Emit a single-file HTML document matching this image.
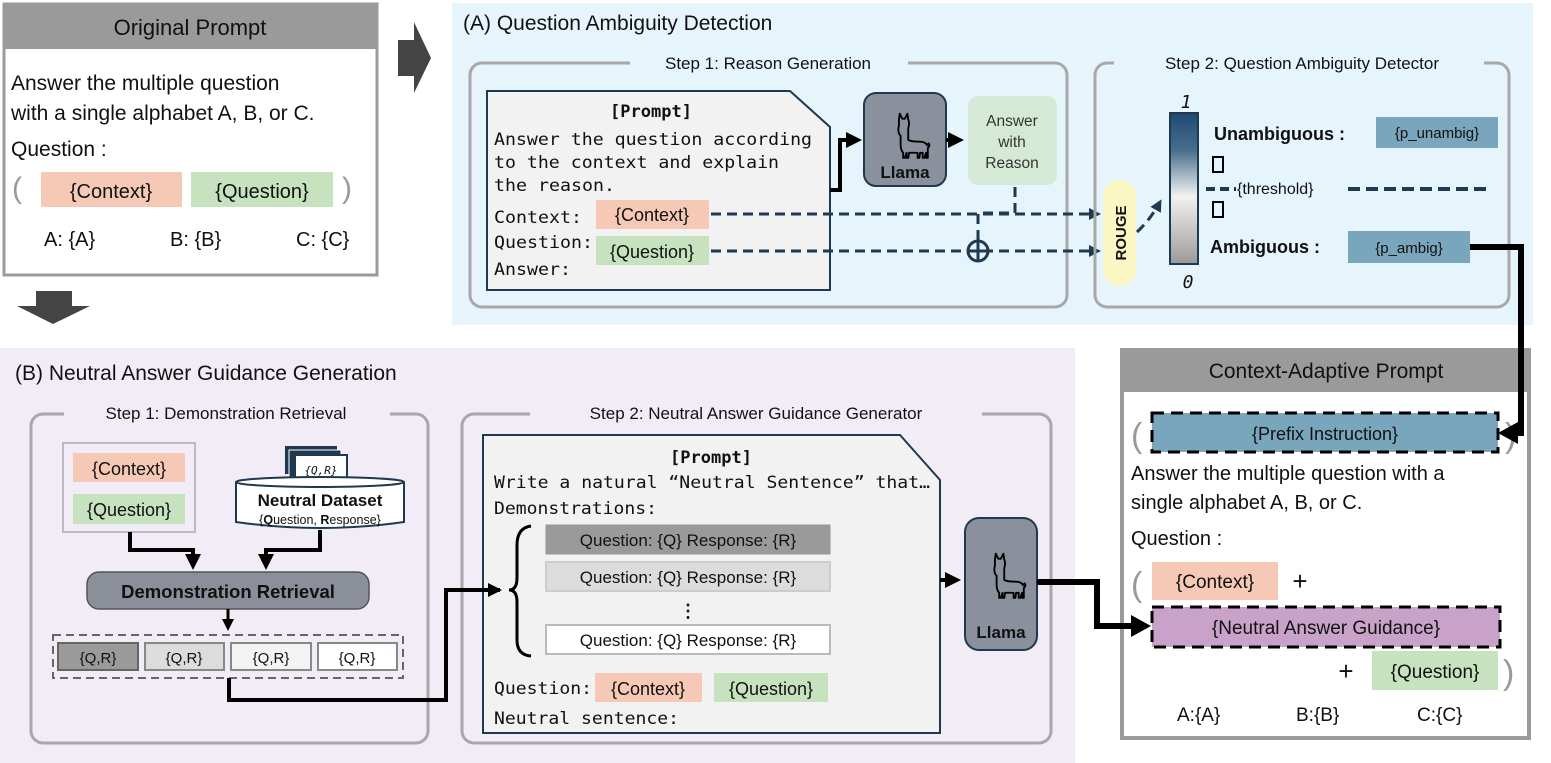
<!DOCTYPE html>
<html><head><meta charset="utf-8"><style>
html,body{margin:0;padding:0;background:#fff}
svg{display:block}
text{font-family:"Liberation Sans",sans-serif;fill:#111}
.m{font-family:"DejaVu Sans Mono","Liberation Mono",monospace}
</style></head><body>
<svg width="1551" height="763" viewBox="0 0 1551 763" xmlns="http://www.w3.org/2000/svg">
<defs>
<marker id="ah" markerWidth="4" markerHeight="4" refX="3" refY="2" orient="auto" markerUnits="strokeWidth"><path d="M0,0 L4,2 L0,4 z" fill="#000"/></marker>
<marker id="ah2" markerWidth="3.5" markerHeight="3.5" refX="3" refY="1.75" orient="auto" markerUnits="strokeWidth"><path d="M0,0 L3.5,1.75 L0,3.5 z" fill="#000"/></marker>
<marker id="ahd" markerWidth="4" markerHeight="4" refX="3" refY="2" orient="auto" markerUnits="strokeWidth"><path d="M0,0 L4,2 L0,4 z" fill="#1f3a50"/></marker>
<linearGradient id="gb" x1="0" y1="0" x2="0" y2="1"><stop offset="0" stop-color="#1d4a72"/><stop offset="0.25" stop-color="#4a6e8e"/><stop offset="0.55" stop-color="#f2f2f2"/><stop offset="1" stop-color="#9a9a9a"/></linearGradient>
<g id="llama" fill="none" stroke="#000" stroke-width="2.2" stroke-linejoin="round">
<path d="M-6,-24 l1,-7 l3,6 l3,0 l3,-6 l1,7 q2,4 0,10 l0,14 q4,2 14,2 q6,0 8,4 l2,-2 q2,3 -1,5 l0,12 l-2,0 l0,-6 l-2,6 l-2,0 l0,-6 l-3,0 l-1,6 l-2,0 l0,-6 l-10,0 l-1,6 l-2,0 l0,-6 l-2,6 l-2,0 l0,-6 q-3,-3 -3,-10 l0,-10 q-4,-4 -2,-12 z"/>
</g>
</defs>

<!-- Original prompt -->
<rect x="4" y="4" width="373" height="271" fill="#fff" stroke="#9a9a9a" stroke-width="3"/>
<rect x="3" y="3" width="375" height="46" fill="#9a9a9a"/>
<text x="190" y="35" font-size="22" text-anchor="middle">Original Prompt</text>
<text x="11" y="90" font-size="21">Answer the multiple question</text>
<text x="11" y="120" font-size="21">with a single alphabet A, B, or C.</text>
<text x="11" y="156" font-size="21">Question :</text>
<text x="12" y="198" font-size="30" style="fill:#999">(</text>
<rect x="41" y="172" width="141" height="35" fill="#f5c9b5"/>
<text x="111" y="198" font-size="20" text-anchor="middle">{Context}</text>
<rect x="191" y="172" width="142" height="35" fill="#c6e2bf"/>
<text x="262" y="198" font-size="20" text-anchor="middle">{Question}</text>
<text x="342" y="198" font-size="30" style="fill:#999">)</text>
<text x="44" y="246" font-size="20">A: {A}</text>
<text x="170" y="246" font-size="20">B: {B}</text>
<text x="296" y="246" font-size="20">C: {C}</text>
<path d="M398,40 L414,40 L414,22 L431,58 L414,93 L414,76 L398,76 z" fill="#444"/>
<path d="M36,291 L72,291 L72,306 L90,306 L53,324 L17,306 L36,306 z" fill="#444"/>

<!-- Panel A -->
<rect x="452" y="3" width="1081" height="322" fill="#e6f5fc"/>
<text x="463" y="30" font-size="21">(A) Question Ambiguity Detection</text>
<rect x="470" y="63" width="597" height="244" rx="12" fill="none" stroke="#a8a8a8" stroke-width="3"/>
<rect x="630" y="52" width="278" height="20" fill="#e6f5fc"/>
<text x="768" y="69" font-size="17" text-anchor="middle">Step 1: Reason Generation</text>
<path d="M487,91 L790,91 L830,127 L830,290 L487,290 z" fill="#f2f2f2" stroke="#1f3a50" stroke-width="2"/>
<text class="m" x="651" y="117" font-size="17" font-weight="bold" text-anchor="middle">[Prompt]</text>
<text class="m" x="494" y="145" font-size="17" textLength="318" lengthAdjust="spacingAndGlyphs">Answer the question according</text>
<text class="m" x="494" y="168" font-size="17" textLength="285" lengthAdjust="spacingAndGlyphs">to the context and explain</text>
<text class="m" x="494" y="191" font-size="17" textLength="121" lengthAdjust="spacingAndGlyphs">the reason.</text>
<text class="m" x="494" y="223" font-size="17" textLength="88" lengthAdjust="spacingAndGlyphs">Context:</text>
<text class="m" x="494" y="248" font-size="17" textLength="99" lengthAdjust="spacingAndGlyphs">Question:</text>
<text class="m" x="494" y="275" font-size="17" textLength="77" lengthAdjust="spacingAndGlyphs">Answer:</text>
<rect x="596" y="200" width="113" height="29" fill="#f5c9b5"/>
<text x="652" y="221" font-size="18" text-anchor="middle">{Context}</text>
<rect x="596" y="236" width="113" height="29" fill="#c6e2bf"/>
<text x="652" y="258" font-size="18" text-anchor="middle">{Question}</text>
<path d="M830,190 L840,190 L840,140 L858,140" fill="none" stroke="#000" stroke-width="4" marker-end="url(#ah)"/>
<rect x="864" y="93" width="82" height="93" rx="12" fill="#8a919c" stroke="#1f3a50" stroke-width="2"/>
<use href="#llama" transform="translate(904,140) scale(0.85)"/>
<text x="905" y="178" font-size="17" font-weight="bold" text-anchor="middle">Llama</text>
<path d="M946,140 L960,140" fill="none" stroke="#000" stroke-width="4" marker-end="url(#ah)"/>
<rect x="968" y="96" width="89" height="89" rx="10" fill="#d5ead6"/>
<text x="1012" y="126" font-size="15.5" text-anchor="middle" style="fill:#333">Answer</text>
<text x="1012" y="147" font-size="15.5" text-anchor="middle" style="fill:#333">with</text>
<text x="1012" y="168" font-size="15.5" text-anchor="middle" style="fill:#333">Reason</text>
<g fill="none" stroke="#1f3a50" stroke-width="3" stroke-dasharray="10,6">
<path d="M711,214 L1098,214" marker-end="url(#ahd)"/>
<path d="M711,251 L1098,251" marker-end="url(#ahd)"/>
<path d="M1015,187 L1015,213 L978,213 L978,240"/>
<path d="M1137,232 Q1150,220 1160,202" marker-end="url(#ahd)"/>
</g>
<circle cx="978" cy="251" r="10" fill="none" stroke="#1f3a50" stroke-width="3"/>
<path d="M968,251 L988,251 M978,241 L978,261" stroke="#1f3a50" stroke-width="3"/>
<!-- Step 2 A -->
<rect x="1095" y="63" width="414" height="244" rx="12" fill="none" stroke="#a8a8a8" stroke-width="3"/>
<rect x="1114" y="52" width="370" height="20" fill="#e6f5fc"/>
<text x="1302" y="69" font-size="17" text-anchor="middle">Step 2: Question Ambiguity Detector</text>
<rect x="1103" y="180" width="33" height="106" rx="16" fill="#fbf7c4"/>
<text transform="translate(1126,233) rotate(-90)" font-size="15" font-weight="bold" text-anchor="middle">ROUGE</text>
<rect x="1170" y="113" width="28" height="151" fill="url(#gb)" stroke="#1f3a50" stroke-width="2"/>
<text class="m" x="1186" y="108" font-size="18" font-style="italic" text-anchor="middle">1</text>
<text class="m" x="1188" y="288" font-size="18" font-style="italic" text-anchor="middle">0</text>
<text x="1214" y="140" font-size="18" font-weight="bold">Unambiguous :</text>
<rect x="1376" y="117" width="122" height="31" fill="#7aa6bd"/>
<text x="1437" y="138" font-size="15" text-anchor="middle">{p_unambig}</text>
<rect x="1213" y="157" width="10" height="15" fill="none" stroke="#000" stroke-width="2"/>
<rect x="1213" y="202" width="10" height="15" fill="none" stroke="#000" stroke-width="2"/>
<path d="M1206,189 L1236,189" stroke="#1f3a50" stroke-width="4" stroke-dasharray="9,5"/>
<text x="1237" y="194" font-size="16">{threshold}</text>
<path d="M1348,189 L1492,189" stroke="#1f3a50" stroke-width="4" stroke-dasharray="12,6"/>
<text x="1210" y="253" font-size="18" font-weight="bold">Ambiguous :</text>
<rect x="1348" y="231" width="122" height="32" fill="#7aa6bd"/>
<text x="1409" y="253" font-size="15" text-anchor="middle">{p_ambig}</text>

<!-- Panel B -->
<rect x="0" y="348" width="1075" height="415" fill="#f1ecf6"/>
<text x="15" y="380" font-size="21">(B) Neutral Answer Guidance Generation</text>
<rect x="31" y="414" width="397" height="329" rx="12" fill="none" stroke="#a8a8a8" stroke-width="3"/>
<rect x="64" y="402" width="326" height="20" fill="#f1ecf6"/>
<text x="226" y="419" font-size="17" text-anchor="middle">Step 1: Demonstration Retrieval</text>
<rect x="63" y="443" width="132" height="89" fill="none" stroke="#bbb" stroke-width="2"/>
<rect x="73" y="453" width="112" height="29" fill="#f5c9b5"/>
<text x="129" y="475" font-size="18" text-anchor="middle">{Context}</text>
<rect x="73" y="494" width="112" height="30" fill="#c6e2bf"/>
<text x="129" y="516" font-size="18" text-anchor="middle">{Question}</text>
<rect x="285" y="446" width="52" height="28" fill="#1f3a50"/>
<rect x="289" y="450" width="52" height="28" fill="#1f3a50" stroke="#fff"/>
<rect x="295" y="455" width="52" height="28" fill="#fff" stroke="#1f3a50" stroke-width="2"/>
<text class="m" x="321" y="474" font-size="11" font-style="italic" text-anchor="middle">{Q,R}</text>
<path d="M236,482 L236,522 Q320,534 404,522 L404,482" fill="#fff" stroke="#1f3a50" stroke-width="2"/>
<ellipse cx="320" cy="482" rx="84" ry="5" fill="#fff" stroke="#1f3a50" stroke-width="2"/>
<text x="320" y="506" font-size="17" font-weight="bold" text-anchor="middle">Neutral Dataset</text>
<text x="320" y="524" font-size="12.5" text-anchor="middle">{<tspan font-weight="bold">Q</tspan>uestion, <tspan font-weight="bold">R</tspan>esponse}</text>
<path d="M130,532 L130,550 L193,550 L193,566" fill="none" stroke="#000" stroke-width="4" marker-end="url(#ah)"/>
<path d="M320,530 L320,550 L266,550 L266,566" fill="none" stroke="#000" stroke-width="4" marker-end="url(#ah)"/>
<rect x="87" y="572" width="282" height="37" rx="12" fill="#8a8f99" stroke="#555" stroke-width="1.5"/>
<text x="228" y="598" font-size="18.5" font-weight="bold" text-anchor="middle">Demonstration Retrieval</text>
<path d="M228,609 L228,628" fill="none" stroke="#000" stroke-width="3" marker-end="url(#ah)"/>
<rect x="53" y="635" width="350" height="43" fill="none" stroke="#666" stroke-width="2" stroke-dasharray="8,5"/>
<rect x="58" y="643" width="80" height="27" fill="#9a9a9a" stroke="#666" stroke-width="2"/>
<rect x="145" y="643" width="79" height="27" fill="#dcdcdc" stroke="#888" stroke-width="2"/>
<rect x="231" y="643" width="80" height="27" fill="#f3f3f3" stroke="#888" stroke-width="2"/>
<rect x="318" y="643" width="79" height="27" fill="#fff" stroke="#888" stroke-width="2"/>
<text x="98" y="663" font-size="15" text-anchor="middle">{Q,R}</text>
<text x="184" y="663" font-size="15" text-anchor="middle">{Q,R}</text>
<text x="271" y="663" font-size="15" text-anchor="middle">{Q,R}</text>
<text x="357" y="663" font-size="15" text-anchor="middle">{Q,R}</text>
<!-- Step 2 B -->
<rect x="462" y="414" width="589" height="329" rx="12" fill="none" stroke="#a8a8a8" stroke-width="3"/>
<rect x="530" y="402" width="452" height="20" fill="#f1ecf6"/>
<text x="756" y="419" font-size="17" text-anchor="middle">Step 2: Neutral Answer Guidance Generator</text>
<path d="M483,435 L900,435 L940,480 L940,733 L483,733 z" fill="#f2f2f2" stroke="#1f3a50" stroke-width="2"/>
<text class="m" x="711" y="463" font-size="17" font-weight="bold" text-anchor="middle">[Prompt]</text>
<text class="m" x="494" y="488" font-size="16.5" textLength="436" lengthAdjust="spacingAndGlyphs">Write a natural “Neutral Sentence” that…</text>
<text class="m" x="494" y="514" font-size="16.5" textLength="163" lengthAdjust="spacingAndGlyphs">Demonstrations:</text>
<path d="M531,526 Q517,528 517,545 L517,578 Q517,590 509,590 Q517,590 517,602 L517,640 Q517,655 531,656" fill="none" stroke="#000" stroke-width="3"/>
<rect x="546" y="525" width="284" height="29" fill="#9a9a9a" stroke="#999"/>
<rect x="546" y="562" width="284" height="29" fill="#dcdcdc" stroke="#ccc" stroke-width="2"/>
<rect x="546" y="625" width="284" height="29" fill="#fff" stroke="#bbb" stroke-width="2"/>
<text x="688" y="546" font-size="17" text-anchor="middle">Question: {Q} Response: {R}</text>
<text x="688" y="583" font-size="17" text-anchor="middle">Question: {Q} Response: {R}</text>
<text x="688" y="646" font-size="17" text-anchor="middle">Question: {Q} Response: {R}</text>
<text x="688" y="617" font-size="18" font-weight="bold" text-anchor="middle">⋮</text>
<text class="m" x="494" y="694" font-size="16.5" textLength="98" lengthAdjust="spacingAndGlyphs">Question:</text>
<rect x="595" y="673" width="107" height="29" fill="#f5c9b5"/>
<text x="648" y="695" font-size="18" text-anchor="middle">{Context}</text>
<rect x="714" y="673" width="114" height="29" fill="#c6e2bf"/>
<text x="771" y="695" font-size="18" text-anchor="middle">{Question}</text>
<text class="m" x="494" y="724" font-size="16.5" textLength="185" lengthAdjust="spacingAndGlyphs">Neutral sentence:</text>
<path d="M940,580 L957,580" fill="none" stroke="#000" stroke-width="4" marker-end="url(#ah)"/>
<rect x="965" y="518" width="72" height="132" rx="14" fill="#8a919c" stroke="#1f3a50" stroke-width="2"/>
<use href="#llama" transform="translate(1000,580) scale(0.85)"/>
<text x="1001" y="638" font-size="17" font-weight="bold" text-anchor="middle">Llama</text>

<!-- Context-Adaptive Prompt -->
<rect x="1122" y="350" width="407" height="388" fill="#fff" stroke="#9a9a9a" stroke-width="4"/>
<rect x="1120" y="348" width="411" height="44" fill="#9a9a9a"/>
<text x="1326" y="378" font-size="21" text-anchor="middle">Context-Adaptive Prompt</text>
<text x="1131" y="447" font-size="34" style="fill:#999">(</text>
<rect x="1152" y="413" width="346" height="39" fill="#7aa6bd" stroke="#000" stroke-width="3" stroke-dasharray="12,7"/>
<text x="1325" y="440" font-size="18" text-anchor="middle">{Prefix Instruction}</text>
<text x="1505" y="447" font-size="34" style="fill:#999">)</text>
<text x="1131" y="480" font-size="20">Answer the multiple question with a</text>
<text x="1131" y="509" font-size="20">single alphabet A, B, or C.</text>
<text x="1131" y="545" font-size="20">Question :</text>
<text x="1131" y="596" font-size="34" style="fill:#999">(</text>
<rect x="1152" y="562" width="126" height="38" fill="#f5c9b5"/>
<text x="1215" y="588" font-size="19" text-anchor="middle">{Context}</text>
<text x="1300" y="590" font-size="26" text-anchor="middle">+</text>
<rect x="1152" y="607" width="348" height="40" fill="#c9a2c9" stroke="#000" stroke-width="3" stroke-dasharray="12,7"/>
<text x="1326" y="634" font-size="19" text-anchor="middle">{Neutral Answer Guidance}</text>
<text x="1346" y="680" font-size="26" text-anchor="middle">+</text>
<rect x="1372" y="651" width="126" height="39" fill="#c6e2bf"/>
<text x="1435" y="678" font-size="19" text-anchor="middle">{Question}</text>
<text x="1503" y="684" font-size="34" style="fill:#999">)</text>
<text x="1177" y="721" font-size="19">A:{A}</text>
<text x="1296" y="721" font-size="19">B:{B}</text>
<text x="1417" y="721" font-size="19">C:{C}</text>

<!-- connectors on top -->
<path d="M229,678 L229,700 L446,700 L446,590 L500,590" fill="none" stroke="#000" stroke-width="4" marker-end="url(#ah2)"/>
<path d="M1037,582 L1097,582 L1097,626 L1134,626" fill="none" stroke="#000" stroke-width="6"/>
<path d="M1151,626 L1131,615 L1131,637 z" fill="#000"/>
<path d="M1470,247 L1521,247 L1521,433 L1515,433" fill="none" stroke="#000" stroke-width="6"/>
<path d="M1498,433 L1518,422 L1518,444 z" fill="#000"/>
</svg>
</body></html>
